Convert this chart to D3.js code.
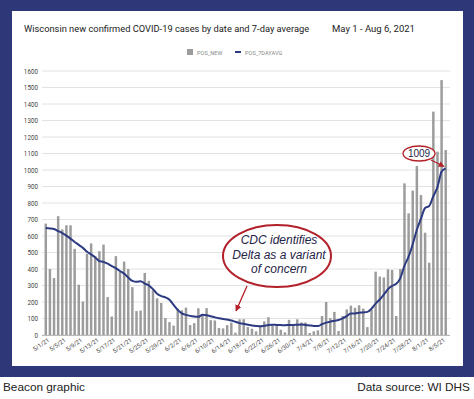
<!DOCTYPE html>
<html><head><meta charset="utf-8">
<script src="https://cdn.jsdelivr.net/npm/d3@7"></script>
<style>body{margin:0;background:#fff}svg{display:block}</style>
</head><body>
<svg id="c" width="474" height="399"></svg>
<script>
// ---- data ----
const startDate = "2021-05-01";
const posNew = [675,400,345,720,640,665,665,522,305,203,492,555,478,508,548,230,112,478,382,445,
  400,290,145,148,376,328,272,222,194,103,78,57,160,150,166,60,72,162,120,163,
  90,88,42,40,60,75,14,95,96,48,38,22,58,82,108,58,58,32,16,92,
  65,95,76,76,12,22,28,115,200,102,140,24,115,155,178,165,180,160,48,155,
  384,354,349,398,394,115,400,919,737,875,1024,848,620,438,1354,1111,1545,1121];
const pos7DayAvg = [648,646,642,630,618,602,584,564,546,528,505,488,470,448,443,432,418,405,388,372,
  348,328,322,326,312,300,278,250,236,228,214,182,152,131,122,116,112,110,122,120,
  114,107,101,97,94,88,80,72,68,62,58,55,53,56,60,62,61,60,59,61,
  61,62,63,61,58,55,54,66,75,81,87,91,101,115,131,131,135,137,140,160,
  190,215,245,278,298,310,345,420,475,550,638,705,770,782,842,896,991,1009];
const yTicks = [0,100,200,300,400,500,600,700,800,900,1000,1100,1200,1300,1400,1500,1600];
const xTickLabels = ["5/1/21","5/5/21","5/9/21","5/13/21","5/17/21","5/21/21","5/25/21","5/29/21",
  "6/2/21","6/6/21","6/10/21","6/14/21","6/18/21","6/22/21","6/26/21","6/30/21","7/4/21","7/8/21",
  "7/12/21","7/16/21","7/20/21","7/24/21","7/28/21","8/1/21","8/5/21"];
const seriesNames = ["POS_NEW","POS_7DAYAVG"];
const title = "Wisconsin new confirmed COVID-19 cases by date and 7-day average";
const dateRange = "May 1 - Aug 6, 2021";
const annotationLines = ["CDC identifies","Delta as a variant","of concern"];
const lastLabel = "1009";

// ---- drawing ----
const fmt = d3.timeFormat("%-m/%-d/%y");
const d0 = d3.timeParse("%Y-%m-%d")(startDate);
const dates = posNew.map((v,i)=>d3.timeDay.offset(d0,i));
const cats = dates.map(fmt);

const svg = d3.select("#c");
const navy = "#2e3878";
svg.append("rect").attr("x",0).attr("y",0).attr("width",474).attr("height",377).attr("fill",navy);
svg.append("rect").attr("x",12).attr("y",11).attr("width",451).attr("height",355).attr("fill","#fff");

const x = d3.scaleBand().domain(cats).range([42.9,448.6]).padding(0.4);
const y = d3.scaleLinear().domain([0,1600]).range([335,71]);

// grid
svg.append("g").selectAll("line").data(yTicks).join("line")
  .attr("x1",42).attr("x2",450).attr("y1",d=>y(d)).attr("y2",d=>y(d))
  .attr("stroke","#e2e2e2").attr("stroke-width",1);

// y axis
const ya = svg.append("g").attr("transform","translate(42,0)")
  .call(d3.axisLeft(y).tickValues(yTicks).tickFormat(d3.format("d")).tickSize(0).tickPadding(4));
ya.select(".domain").remove();
ya.selectAll("text").attr("font-family","Roboto").attr("font-size","6.3px").attr("fill","#444");

// bars
svg.append("g").selectAll("rect").data(posNew).join("rect")
  .attr("x",(d,i)=>x(cats[i])).attr("width",x.bandwidth())
  .attr("y",d=>y(d)).attr("height",d=>y(0)-y(d)).attr("fill","#9c9c9c");

// baseline
svg.append("line").attr("x1",42).attr("x2",450).attr("y1",y(0)+0.5).attr("y2",y(0)+0.5).attr("stroke","#bbb");

// x axis
const xa = svg.append("g").attr("transform",`translate(0,${y(0)})`)
  .call(d3.axisBottom(x).tickValues(xTickLabels).tickSize(0).tickPadding(0));
xa.select(".domain").remove();
xa.selectAll("text").attr("font-family","Roboto").attr("font-size","6px").attr("fill","#444")
  .attr("text-anchor","end").attr("dy",null).attr("y",0)
  .attr("transform","translate(4,6) rotate(-35)");

// line
const line = d3.line().x((d,i)=>x(cats[i])+x.bandwidth()/2).y(d=>y(d)).curve(d3.curveMonotoneX);
svg.append("path").datum(pos7DayAvg).attr("d",line).attr("fill","none")
  .attr("stroke","#2c3a82").attr("stroke-width",2);

// title
svg.append("text").attr("x",24).attr("y",32).text(title)
  .attr("font-family","Roboto").attr("font-size","9.3px").attr("fill","#222");
svg.append("text").attr("x",332).attr("y",32).text(dateRange)
  .attr("font-family","Roboto").attr("font-size","9.5px").attr("fill","#222");

// legend
svg.append("rect").attr("x",187).attr("y",49).attr("width",6).attr("height",6).attr("fill","#9c9c9c");
svg.append("text").attr("x",197).attr("y",54.5).text(seriesNames[0])
  .attr("font-family","Roboto").attr("font-size","5.6px").attr("fill","#888");
svg.append("line").attr("x1",235).attr("x2",241).attr("y1",52).attr("y2",52).attr("stroke","#2c3a82").attr("stroke-width",2);
svg.append("text").attr("x",245).attr("y",54.5).text(seriesNames[1])
  .attr("font-family","Roboto").attr("font-size","5.6px").attr("fill","#888");

// annotation: CDC ellipse
const red = "#b3202a";
const defs = svg.append("defs");
defs.append("marker").attr("id","ah").attr("viewBox","0 0 10 10").attr("refX",9).attr("refY",5)
  .attr("markerWidth",5).attr("markerHeight",5).attr("orient","auto")
  .append("path").attr("d","M0,0L10,5L0,10z").attr("fill",red);
svg.append("ellipse").attr("cx",277).attr("cy",256).attr("rx",54).attr("ry",31)
  .attr("fill","#fff").attr("stroke",red).attr("stroke-width",2);
svg.append("g").selectAll("text").data(annotationLines).join("text")
  .attr("x",279).attr("y",(d,i)=>244+i*14.5).attr("text-anchor","middle").text(d=>d)
  .attr("font-family","Liberation Sans").attr("font-style","italic").attr("font-size","12px").attr("fill","#1f2547");
svg.append("line").attr("x1",247).attr("y1",286).attr("x2",236).attr("y2",311)
  .attr("stroke",red).attr("stroke-width",1.3).attr("marker-end","url(#ah)");

// annotation: 1009
svg.append("ellipse").attr("cx",419).attr("cy",153.5).attr("rx",16).attr("ry",7.5)
  .attr("fill","#fff").attr("stroke",red).attr("stroke-width",1.3);
svg.append("text").attr("x",419).attr("y",157).attr("text-anchor","middle").text(lastLabel)
  .attr("font-family","Liberation Sans").attr("font-size","10px").attr("fill","#1f2547");
svg.append("line").attr("x1",431).attr("y1",160).attr("x2",444).attr("y2",166.5)
  .attr("stroke",red).attr("stroke-width",1.2).attr("marker-end","url(#ah)");

// footer
svg.append("text").attr("x",3).attr("y",391).text("Beacon graphic")
  .attr("font-family","Liberation Sans").attr("font-size","11.8px").attr("fill","#222");
svg.append("text").attr("x",470).attr("y",391).attr("text-anchor","end").text("Data source: WI DHS")
  .attr("font-family","Liberation Sans").attr("font-size","11.8px").attr("fill","#222");
</script>
</body></html>
